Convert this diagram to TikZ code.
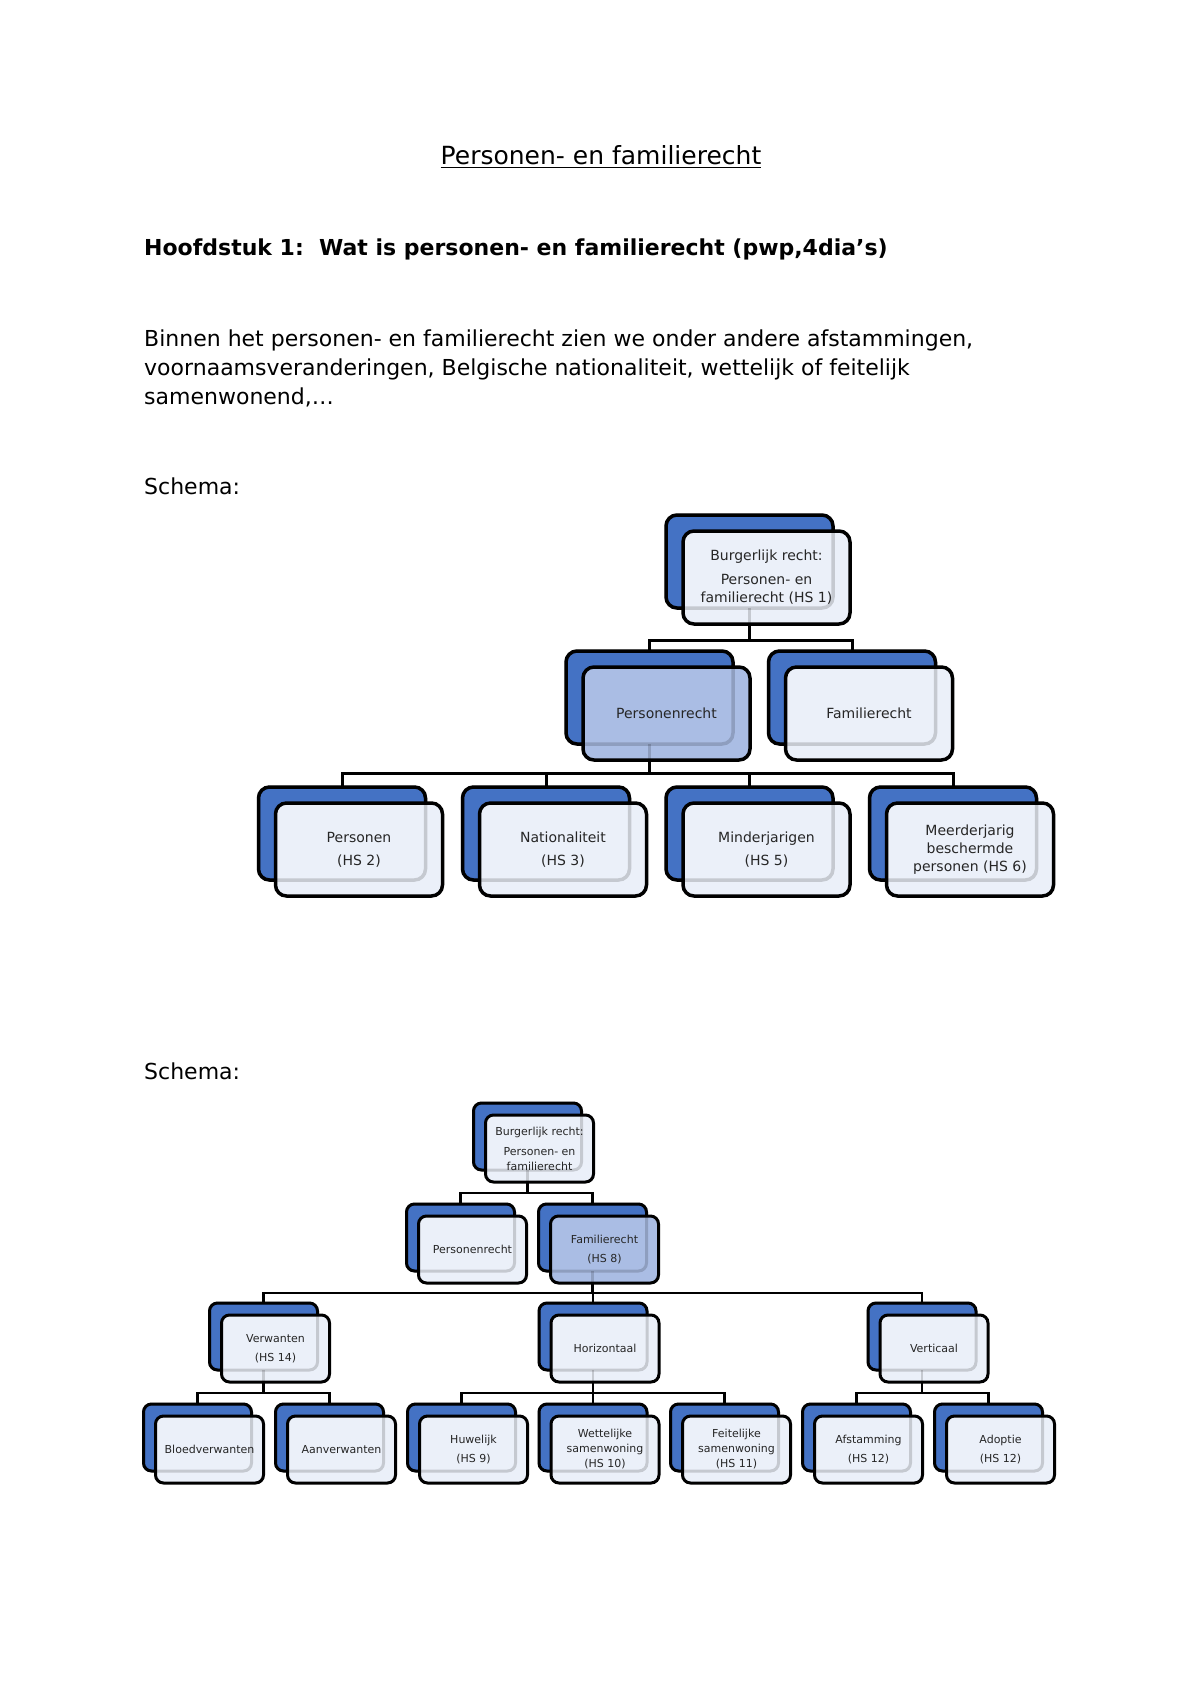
\documentclass[tikz,border=0pt]{standalone}
\usepackage{fontspec}
\setmainfont{DejaVu Sans}
\usetikzlibrary{calc}
\pgfdeclarelayer{bg}
\pgfsetlayers{bg,main}
\definecolor{sablue}{RGB}{68,114,196}
\definecolor{salight}{RGB}{235,240,249}
\definecolor{sahigh}{RGB}{170,189,228}
\tikzset{
  backA/.style={rectangle, rounded corners=11pt, minimum width=167pt, minimum height=93pt,
    fill=sablue, draw=black, line width=3.5pt, outer sep=0pt, inner sep=0pt},
  frontA/.style={backA, fill=salight, align=center, text=black!85, font=\fontsize{14}{18}\selectfont},
  highA/.style={frontA, fill=sahigh},
  backB/.style={rectangle, rounded corners=8pt, minimum width=108pt, minimum height=67pt,
    fill=sablue, draw=black, line width=3pt, outer sep=0pt, inner sep=0pt},
  frontB/.style={backB, fill=salight, align=center, text=black!85, font=\fontsize{11}{15}\selectfont},
  highB/.style={frontB, fill=sahigh},
  connA/.style={draw=black, line width=3pt, line cap=rect},
  connB/.style={draw=black, line width=2.5pt, line cap=rect},
  faintA/.style={draw=black, draw opacity=0.16, line width=3.5pt, rounded corners=11pt},
  faintB/.style={draw=black, draw opacity=0.16, line width=3pt, rounded corners=8pt},
  bodytext/.style={anchor=base west, inner sep=0pt, font=\fontsize{22}{28}\selectfont},
}
% #1 name, #2 x, #3 y, #4 back style, #5 front style, #6 dx, #7 dy, #8 text
\newcommand\stk[8]{%
  \node[#4] (#1b) at (#2,#3) {};
  \node[#5] (#1) at ($(#2,#3)+(#6,#7)$) {#8};}
% parent back, level coordinate, first child, last child, list of children, style
\newcommand\tree[6]{%
  \begin{pgfonlayer}{bg}
  \draw[#6] (#1b.south) -- (#1b.south |- #2);
  \draw[#6] (#3b.north |- #2) -- (#4b.north |- #2);
  \foreach \c in {#5} \draw[#6] (\c b.north |- #2) -- (\c b.north);
  \end{pgfonlayer}}
\begin{document}
\begin{tikzpicture}[x=1pt,y=-1pt]
\useasboundingbox (0,0) rectangle (1200,1696);
\begin{pgfonlayer}{bg}
\fill[white] (0,0) rectangle (1200,1696);
\end{pgfonlayer}

% ---------- texts ----------
\node[anchor=base, inner sep=0pt, font=\fontsize{25}{30}\selectfont] (title) at (601,165) {\underline{Personen- en familierecht}};
\node[bodytext, font=\bfseries\fontsize{22}{28}\selectfont] (hs) at (144,256) {Hoofdstuk 1:\ \ Wat is personen- en familierecht (pwp,4dia’s)};
\node[bodytext] (p1) at (144,346) {Binnen het personen- en familierecht zien we onder andere afstammingen,};
\node[bodytext] (p2) at (144,375) {voornaamsveranderingen, Belgische nationaliteit, wettelijk of feitelijk};
\node[bodytext] (p3) at (144,404) {samenwonend,…};
\node[bodytext] (s1) at (144,494) {Schema:};
\node[bodytext] (s2) at (144,1079) {Schema:};

% ---------- line coordinates ----------
\coordinate (LA1) at (0,640);
\coordinate (LA2) at (0,773);
\coordinate (LB1) at (0,1193);
\coordinate (LB2) at (0,1293);
\coordinate (LB3) at (0,1393);

% ---------- diagram 1 ----------
\stk{ta}{749.5}{561.5}{backA}{frontA}{17}{16}{Burgerlijk recht:\\[6pt]Personen- en\\familierecht (HS 1)}
\stk{pa}{649.5}{697.5}{backA}{highA}{17}{16}{Personenrecht}
\stk{fa}{852}{697.5}{backA}{frontA}{17}{16}{Familierecht}
\stk{ca}{342}{833.5}{backA}{frontA}{17}{16}{Personen\\[5pt](HS 2)}
\stk{cb}{546}{833.5}{backA}{frontA}{17}{16}{Nationaliteit\\[5pt](HS 3)}
\stk{cc}{749.5}{833.5}{backA}{frontA}{17}{16}{Minderjarigen\\[5pt](HS 5)}
\stk{cd}{953}{833.5}{backA}{frontA}{17}{16}{Meerderjarig\\beschermde\\personen (HS 6)}

% ---------- diagram 2 ----------
\stk{tb}{527.5}{1136.5}{backB}{frontB}{12}{12}{Burgerlijk recht:\\[5pt]Personen- en\\familierecht}
\stk{qa}{460.5}{1237.5}{backB}{frontB}{12}{12}{Personenrecht}
\stk{qb}{592.5}{1237.5}{backB}{highB}{12}{12}{Familierecht\\[4pt](HS 8)}
\stk{va}{263.5}{1336.5}{backB}{frontB}{12}{12}{Verwanten\\[4pt](HS 14)}
\stk{vb}{593}{1336.5}{backB}{frontB}{12}{12}{Horizontaal}
\stk{vc}{922}{1336.5}{backB}{frontB}{12}{12}{Verticaal}
\stk{wa}{197.5}{1437.5}{backB}{frontB}{12}{12}{Bloedverwanten}
\stk{wb}{329.5}{1437.5}{backB}{frontB}{12}{12}{Aanverwanten}
\stk{wc}{461.5}{1437.5}{backB}{frontB}{12}{12}{Huwelijk\\[4pt](HS 9)}
\stk{wd}{593}{1437.5}{backB}{frontB}{12}{12}{Wettelijke\\samenwoning\\(HS 10)}
\stk{we}{724.5}{1437.5}{backB}{frontB}{12}{12}{Feitelijke\\samenwoning\\(HS 11)}
\stk{wf}{856.5}{1437.5}{backB}{frontB}{12}{12}{Afstamming\\[4pt](HS 12)}
\stk{wg}{988.5}{1437.5}{backB}{frontB}{12}{12}{Adoptie\\[4pt](HS 12)}

% ---------- connectors (behind boxes) ----------
\tree{ta}{LA1}{pa}{fa}{pa,fa}{connA}
\tree{pa}{LA2}{ca}{cd}{ca,cb,cc,cd}{connA}
\tree{tb}{LB1}{qa}{qb}{qa,qb}{connB}
\tree{qb}{LB2}{va}{vc}{va,vb,vc}{connB}
\tree{va}{LB3}{wa}{wb}{wa,wb}{connB}
\tree{vb}{LB3}{wc}{we}{wc,wd,we}{connB}
\tree{vc}{LB3}{wf}{wg}{wf,wg}{connB}

% ---------- faint see-through lines inside the front boxes ----------
\foreach \n in {ta,pa,fa,ca,cb,cc,cd}
  \draw[faintA] (\n b.south west) rectangle (\n b.north east);
\foreach \n in {tb,qa,qb,va,vb,vc,wa,wb,wc,wd,we,wf,wg}
  \draw[faintB] (\n b.south west) rectangle (\n b.north east);
\foreach \n/\l in {ta/LA1,pa/LA2}
  \draw[draw=black, draw opacity=0.16, line width=3pt] (\n b.south) -- (\n.south -| \n b.south);
\foreach \n in {tb,qb,va,vb,vc}
  \draw[draw=black, draw opacity=0.16, line width=2.5pt] (\n b.south) -- (\n.south -| \n b.south);
\end{tikzpicture}
\end{document}
